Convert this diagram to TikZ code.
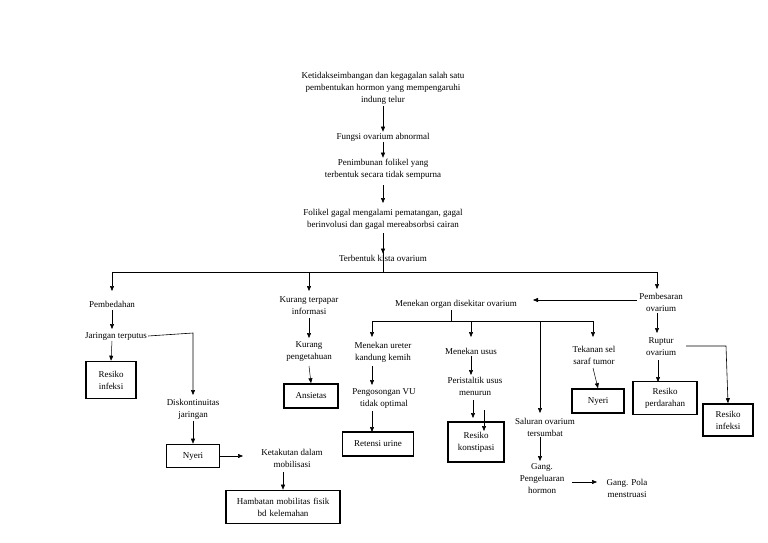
\documentclass[tikz,border=0pt]{standalone}
\usepackage{fontspec}
\setmainfont{Liberation Serif}
\usetikzlibrary{arrows.meta}
\begin{document}
\begin{tikzpicture}[x=1pt,y=-1pt,
 t/.style={align=center,font=\fontsize{9}{12}\selectfont,inner sep=1pt},
 b/.style={t,draw,line width=1.6pt,minimum height=#1,inner sep=3pt},
 b/.default=24pt,
 a/.style={-{Triangle[length=5pt,width=4pt]},line width=0.5pt},
 l/.style={line width=0.6pt}]
\useasboundingbox (0,0) rectangle (768,543);
\node[t] (n1) at (383,88) {Ketidakseimbangan dan kegagalan salah satu\\pembentukan hormon yang mempengaruhi\\indung telur};
\node[t] (n2) at (383,137) {Fungsi ovarium abnormal};
\node[t] (n3) at (383,169) {Penimbunan folikel yang\\terbentuk secara tidak sempurna};
\node[t] (n4) at (383,219) {Folikel gagal mengalami pematangan, gagal\\berinvolusi dan gagal mereabsorbsi cairan};
\node[t] (n5) at (383,258) {Terbentuk kista ovarium};
\draw[a] (383,106) -- (n2);
\draw[a] (n2) -- (n3);
\draw[a] (383,185) -- (383,203);
\draw[a] (383,233) -- (n5);
\coordinate (j) at (383,272);
\draw[l] (383,252) -- (j);
\draw[l] (112,272) -- (657,272);
\node[t] (pb) at (112,304) {Pembedahan};
\node[t] (kt) at (309,306) {Kurang terpapar\\informasi};
\node[t] (pov) at (661,302) {Pembesaran\\ovarium};
\draw[a] (112,272) -- (112,291);
\draw[a] (309,272) -- (309,291);
\draw[a] (657,272) -- (657,289);
% left
\node[t] (jt) at (116,336) {Jaringan terputus};
\draw[a] (112,310) -- (112,329);
\node[b=37pt,text width=44pt] (ri1) at (111,380) {Resiko\\infeksi};
\draw[a] (112,341) -- (ri1.north);
\node[t] (dk) at (193,409) {Diskontinuitas\\jaringan};
\draw[a,l] (jt.east) -- (193,333) -- (193,395);
\node[b=23pt,minimum width=53pt] (ny1) at (193,456) {Nyeri};
\draw[a] (193,421) -- (ny1.north);
\node[t] (kd) at (292,458) {Ketakutan dalam\\mobilisasi};
\draw[a] (ny1.east) -- (243,456);
\node[b=33pt,text width=108pt] (hm) at (283,507) {Hambatan mobilitas fisik\\bd kelemahan};
\draw[a] (283,472) -- (hm.north);
\node[t] (kp) at (309,352) {Kurang\\pengetahuan};
\draw[a] (309,318) -- (309,338);
\node[b=24pt,minimum width=54pt] (an) at (311,396) {Ansietas};
\draw[a] (309,366) -- (an.north);
% middle
\node[t] (mo) at (456,304) {Menekan organ disekitar ovarium};
\draw[a] (637,300) -- (533,300);
\draw[l] (451,310) -- (451,321);
\draw[l] (372,321) -- (593,321);
\node[t] (mu) at (383,352) {Menekan ureter\\kandung kemih};
\draw[a] (372,321) -- (372,337);
\node[t] (pv) at (384,399) {Pengosongan VU\\tidak optimal};
\draw[a] (372,366) -- (372,385);
\node[b=24pt,minimum width=71pt] (ru) at (378,444) {Retensi urine};
\draw[a] (372,411) -- (372,432);
\node[t] (ms) at (471,351) {Menekan usus};
\draw[a] (471,321) -- (471,337);
\node[t] (pu) at (475,386) {Peristaltik usus\\menurun};
\draw[a] (471,356) -- (471,375);
\node[b=40pt,text width=50pt] (rk) at (476,442) {Resiko\\konstipasi};
\draw[a] (473,400) -- (473,418);
\draw[a] (484,410) -- (484,431);
\node[t] (so) at (545,427) {Saluran ovarium\\tersumbat};
\draw[a] (540,321) -- (540,413);
\node[t] (gp) at (542,479) {Gang.\\Pengeluaran\\hormon};
\draw[a] (540,437) -- (540,461);
\node[t] (gm) at (627,488) {Gang. Pola\\menstruasi};
\draw[a] (572,482) -- (597,482);
\node[t] (ts) at (594,355) {Tekanan sel\\saraf tumor};
\draw[a] (593,321) -- (593,337);
\node[b=24pt,minimum width=52pt] (ny2) at (598,401) {Nyeri};
\draw[a] (593,368) -- (ny2.north);
% right
\node[t] (ro) at (661,347) {Ruptur\\ovarium};
\draw[a] (657,313) -- (657,333);
\node[b=33pt,text width=58pt] (rp) at (665,398) {Resiko\\perdarahan};
\draw[a] (658,360) -- (658,382);
\node[b=32pt,text width=44pt] (ri2) at (728,420) {Resiko\\infeksi};
\draw[a,l] (686,346) -- (726,346) -- (ri2.north);
\end{tikzpicture}
\end{document}
